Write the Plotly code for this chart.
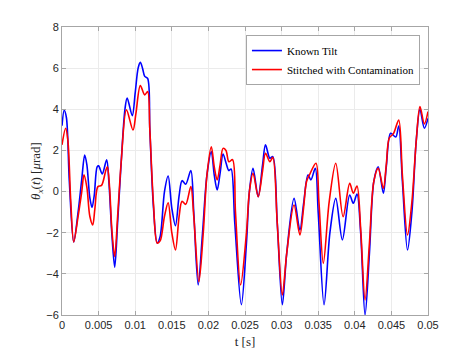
import plotly.graph_objects as go

t_known = [0.0000, 0.0003, 0.0006, 0.0010, 0.0016, 0.0022, 0.0027, 0.0031, 0.0034, 0.0038,
           0.0041, 0.0044, 0.0048, 0.0050, 0.0055, 0.0061, 0.0064, 0.0068, 0.0072, 0.0076,
           0.0081, 0.0086, 0.0089, 0.0096, 0.0100, 0.0104, 0.0107, 0.0110, 0.0113, 0.0117,
           0.0120, 0.0125, 0.0130, 0.0134, 0.0140, 0.0145, 0.0150, 0.0155, 0.0160, 0.0164,
           0.0169, 0.0176, 0.0180, 0.0186, 0.0192, 0.0198, 0.0204, 0.0208, 0.0212, 0.0216,
           0.0220, 0.0224, 0.0228, 0.0231, 0.0236, 0.0245, 0.0252, 0.0256, 0.0261, 0.0268,
           0.0274, 0.0278, 0.0284, 0.0288, 0.0294, 0.0301, 0.0307, 0.0317, 0.0325, 0.0330,
           0.0336, 0.0340, 0.0346, 0.0350, 0.0358, 0.0366, 0.0374, 0.0383, 0.0393, 0.0398,
           0.0403, 0.0408, 0.0414, 0.0420, 0.0426, 0.0432, 0.0439, 0.0443, 0.0449, 0.0456,
           0.0460, 0.0465, 0.0472, 0.0478, 0.0484, 0.0489, 0.0495, 0.0500]
theta_known = [3.2, 3.95, 3.6, 0.5, -2.45, -1.0, 0.6, 1.78, 1.3, -0.3,
               -0.77, -0.2, 1.2, 1.25, 0.86, 1.54, 0.5, -2.0, -3.68, -1.5,
               1.5, 4.0, 4.55, 3.69, 4.8, 6.0, 6.28, 6.0, 5.6, 5.5,
               3.0, -0.8, -2.5, -2.2, 0.0, 0.76, -0.8, -1.66, -0.2, 0.53,
               0.36, 1.02, -1.0, -4.54, -2.0, 0.8, 1.94, 0.8, 0.08, 0.9,
               1.83, 1.4, 1.02, 1.1, -1.5, -5.5, -2.5, 0.0, 1.13, -0.25,
               1.3, 2.27, 1.62, 1.7, -1.5, -5.5, -3.0, -0.33, -1.87, -0.6,
               0.81, 0.57, 1.13, -1.0, -5.5, -2.0, -0.33, -2.35, -0.17, -0.57,
               -0.12, -2.0, -6.0, -3.0, 0.5, 1.21, -0.08, 1.2, 2.83, 2.65,
               3.19, 0.5, -2.84, -1.0, 2.5, 4.0, 3.08, 3.56]

t_stitched = [0.0000, 0.0005, 0.0008, 0.0012, 0.0016, 0.0022, 0.0027, 0.0030, 0.0034, 0.0038,
              0.0042, 0.0045, 0.0049, 0.0054, 0.0060, 0.0062, 0.0065, 0.0068, 0.0072, 0.0076,
              0.0081, 0.0088, 0.0097, 0.0101, 0.0107, 0.0113, 0.0117, 0.0120, 0.0125, 0.0130,
              0.0134, 0.0140, 0.0145, 0.0150, 0.0155, 0.0160, 0.0164, 0.0169, 0.0176, 0.0180,
              0.0187, 0.0193, 0.0198, 0.0204, 0.0208, 0.0212, 0.0216, 0.0220, 0.0224, 0.0228,
              0.0233, 0.0237, 0.0244, 0.0252, 0.0256, 0.0261, 0.0268, 0.0274, 0.0278, 0.0284,
              0.0288, 0.0294, 0.0301, 0.0307, 0.0317, 0.0325, 0.0330, 0.0334, 0.0338, 0.0347,
              0.0351, 0.0357, 0.0365, 0.0374, 0.0384, 0.0393, 0.0398, 0.0403, 0.0408, 0.0414,
              0.0420, 0.0426, 0.0432, 0.0439, 0.0443, 0.0447, 0.0453, 0.0460, 0.0465, 0.0472,
              0.0478, 0.0484, 0.0489, 0.0495, 0.0500]
theta_stitched = [2.27, 3.08, 2.5, -0.5, -2.45, -1.2, 0.0, 0.81, 0.2, -1.2,
                  -1.62, -0.8, 0.24, 0.3, 1.05, 1.2, 0.2, -1.8, -3.16, -1.2,
                  1.5, 3.97, 2.99, 3.8, 5.15, 4.7, 4.86, 3.0, -0.6, -2.5,
                  -2.4, -1.2, -0.54, -2.0, -2.84, -1.2, -0.47, -0.62, 0.24, -1.2,
                  -4.38, -2.0, 0.8, 2.18, 1.2, 0.56, 1.3, 2.1, 2.0, 1.45,
                  1.55, -1.0, -4.54, -2.0, 0.0, 0.89, -0.25, 1.0, 1.86, 1.45,
                  1.66, -1.5, -5.03, -3.0, -0.65, -2.11, -0.8, 0.48, 0.81, 1.38,
                  -0.5, -3.49, -0.5, 1.38, -1.22, 0.40, -0.08, 0.27, -1.8, -5.27,
                  -2.5, 0.5, 1.13, 0.16, 1.3, 2.59, 2.83, 3.48, 0.8, -2.11,
                  -0.5, 2.5, 4.13, 3.29, 3.89]

x_tickvals = [0, 0.005, 0.01, 0.015, 0.02, 0.025, 0.03, 0.035, 0.04, 0.045, 0.05]
x_ticktext = ["0", "0.005", "0.01", "0.015", "0.02", "0.025", "0.03", "0.035", "0.04", "0.045", "0.05"]
y_tickvals = [-6, -4, -2, 0, 2, 4, 6, 8]

SERIF = "Liberation Serif, DejaVu Serif, serif"

fig = go.Figure()
fig.add_trace(go.Scatter(x=t_known, y=theta_known, mode="lines", name="Known Tilt",
                         line=dict(color="#0000ff", width=1.6, shape="spline", smoothing=0.9)))
fig.add_trace(go.Scatter(x=t_stitched, y=theta_stitched, mode="lines", name="Stitched with Contamination",
                         line=dict(color="#ff0000", width=1.6, shape="spline", smoothing=0.9)))

axis_common = dict(showline=True, linecolor="#a6a6a6", linewidth=1, mirror="ticks",
                   ticks="inside", ticklen=4, tickcolor="#a6a6a6",
                   showgrid=True, gridcolor="#ebebeb", gridwidth=1, zeroline=False,
                   tickfont=dict(family="Liberation Sans, Arial", size=11, color="#262626"))

fig.update_xaxes(range=[0, 0.05], tickvals=x_tickvals, ticktext=x_ticktext,
                 title=dict(text="t [s]", font=dict(family=SERIF, size=13, color="#262626"), standoff=6),
                 **axis_common)
fig.update_yaxes(range=[-6, 8], tickvals=y_tickvals,
                 title=dict(text="<i>θ<sub>x</sub></i>(<i>t</i>) [<i>μ</i>rad]",
                            font=dict(family=SERIF, size=13, color="#262626"), standoff=2),
                 **axis_common)

fig.update_layout(width=474, height=355, margin=dict(l=54, r=54, t=19, b=48, autoexpand=False),
                  paper_bgcolor="white", plot_bgcolor="white",
                  legend=dict(x=0.978, y=0.972, xanchor="right", yanchor="top",
                              bgcolor="white", bordercolor="#a6a6a6", borderwidth=1,
                              font=dict(family=SERIF, size=11, color="#000000"),
                              tracegroupgap=0, itemwidth=30),
                  showlegend=True)

fig.write_html("out.html")
